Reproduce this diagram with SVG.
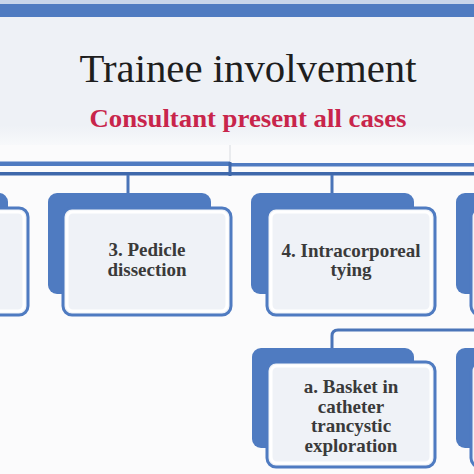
<svg xmlns="http://www.w3.org/2000/svg" width="474" height="474" viewBox="0 0 474 474">
  <defs>
    <style>
      .back { fill: #4f7bc1; }
      .front { fill: #eff2f7; stroke: #4f7bc1; stroke-width: 3; }
      .inner { fill: none; stroke: #ffffff; stroke-width: 3; }
      .lbl { font-family: "Liberation Serif", "DejaVu Serif", serif; font-size: 19px; font-weight: bold; fill: #3a3a3a; text-anchor: middle; }
      .conn { fill: none; stroke: #4a74b8; }
    </style>
    <linearGradient id="tg" x1="0" y1="0" x2="0" y2="1">
      <stop offset="0" stop-color="#eef1f6"/>
      <stop offset="0.85" stop-color="#eef1f6"/>
      <stop offset="1" stop-color="#f8f9fb"/>
    </linearGradient>
  </defs>
  <rect x="0" y="0" width="474" height="474" fill="#fbfbfc"/>

  <g id="title">
    <rect x="0" y="0" width="474" height="4" fill="#c8d5ea"/>
    <rect x="0" y="4" width="474" height="13" fill="#4f7bc1"/>
    <rect x="0" y="17" width="474" height="128" fill="url(#tg)"/>
    <text x="248" y="82" font-family="Liberation Serif, DejaVu Serif, serif" font-size="40" fill="#1e1e1e" text-anchor="middle" textLength="337" lengthAdjust="spacingAndGlyphs">Trainee involvement</text>
    <text x="248" y="127" font-family="Liberation Serif, DejaVu Serif, serif" font-size="26" font-weight="bold" fill="#c8254b" text-anchor="middle" textLength="317" lengthAdjust="spacingAndGlyphs">Consultant present all cases</text>
  </g>

  <g id="connectors">
    <line x1="230" y1="145" x2="230" y2="162" stroke="#d8dbe0" stroke-width="1"/>
    <rect x="0" y="161.5" width="230" height="4.5" fill="#4f7bc1"/>
    <rect x="230" y="163" width="244" height="3.5" fill="#4f7bc1"/>
    <rect x="0" y="172" width="474" height="3.5" fill="#3f68ab"/>
    <rect x="228.5" y="162" width="3" height="14" fill="#3f68ab"/>
    <line class="conn" x1="128" y1="175" x2="128" y2="193" stroke-width="3"/>
    <line class="conn" x1="332" y1="175" x2="332" y2="193" stroke-width="3"/>
    <path class="conn" d="M332,348 V336 Q332,330 338,330 H474" stroke-width="3"/>
  </g>

  <g id="node-left">
    <rect class="back" x="-155" y="193" width="163" height="101" rx="9"/>
    <rect class="front" x="-140" y="208" width="168" height="107" rx="9"/>
    <rect class="inner" x="-136" y="212" width="160" height="99" rx="6"/>
  </g>

  <g id="node-3">
    <rect class="back" x="48" y="193" width="163" height="101" rx="9"/>
    <rect class="front" x="63" y="208" width="168" height="107" rx="9"/>
    <rect class="inner" x="67" y="212" width="160" height="99" rx="6"/>
    <text class="lbl" x="147" y="256">3. Pedicle</text>
    <text class="lbl" x="147" y="276">dissection</text>
  </g>

  <g id="node-4">
    <rect class="back" x="251" y="193" width="163" height="101" rx="9"/>
    <rect class="front" x="267" y="208" width="168" height="107" rx="9"/>
    <rect class="inner" x="271" y="212" width="160" height="99" rx="6"/>
    <text class="lbl" x="351" y="257">4. Intracorporeal</text>
    <text class="lbl" x="351" y="276">tying</text>
  </g>

  <g id="node-right">
    <rect class="back" x="456" y="193" width="163" height="101" rx="9"/>
    <rect class="front" x="471" y="208" width="168" height="107" rx="9"/>
  </g>

  <g id="node-a">
    <rect class="back" x="252" y="348" width="162" height="100" rx="9"/>
    <rect class="front" x="267" y="362" width="168" height="105" rx="9"/>
    <rect class="inner" x="271" y="366" width="160" height="97" rx="6"/>
    <text class="lbl" x="351" y="393">a. Basket in</text>
    <text class="lbl" x="351" y="413">catheter</text>
    <text class="lbl" x="351" y="432">trancystic</text>
    <text class="lbl" x="351" y="452">exploration</text>
  </g>

  <g id="node-b">
    <rect class="back" x="456" y="348" width="163" height="100" rx="9"/>
    <rect class="front" x="471" y="362" width="168" height="105" rx="9"/>
  </g>
</svg>
